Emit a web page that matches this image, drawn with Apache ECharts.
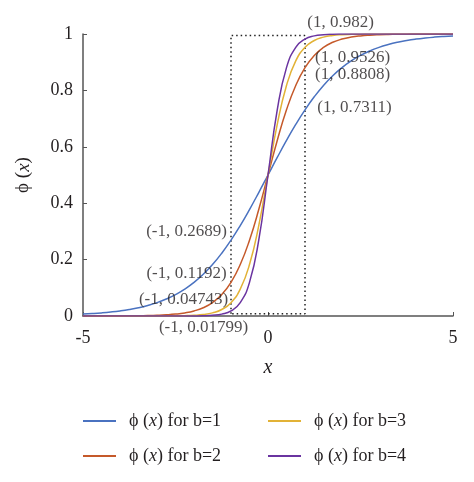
<!DOCTYPE html>
<html>
<head>
<meta charset="utf-8">
<script src="https://cdn.jsdelivr.net/npm/echarts@6/dist/echarts.min.js"></script>
<style>
  html, body { margin: 0; padding: 0; background: #fff; }
  #chart { width: 474px; height: 482px; }
</style>
</head>
<body>
<div id="chart"></div>
<script>
// x samples shared by every curve
const xs = [-5, -4.75, -4.5, -4.25, -4, -3.75, -3.5, -3.25, -3, -2.75, -2.5, -2.25, -2, -1.75, -1.5, -1.25,
  -1, -0.75, -0.5, -0.25, 0, 0.25, 0.5, 0.75, 1, 1.25, 1.5, 1.75, 2, 2.25, 2.5, 2.75, 3, 3.25, 3.5, 3.75,
  4, 4.25, 4.5, 4.75, 5];

const phiB1 = [0.0067, 0.0086, 0.0110, 0.0141, 0.0180, 0.0230, 0.0293, 0.0374, 0.0474, 0.0601, 0.0759,
  0.0953, 0.1192, 0.1480, 0.1824, 0.2227, 0.2689, 0.3208, 0.3775, 0.4378, 0.5, 0.5622, 0.6225, 0.6792,
  0.7311, 0.7773, 0.8176, 0.8520, 0.8808, 0.9047, 0.9241, 0.9399, 0.9526, 0.9626, 0.9707, 0.9770, 0.9820,
  0.9859, 0.9890, 0.9914, 0.9933];
const phiB2 = [0.0000, 0.0001, 0.0001, 0.0002, 0.0003, 0.0006, 0.0009, 0.0015, 0.0025, 0.0041, 0.0067,
  0.0110, 0.0180, 0.0293, 0.0474, 0.0759, 0.1192, 0.1824, 0.2689, 0.3775, 0.5, 0.6225, 0.7311, 0.8176,
  0.8808, 0.9241, 0.9526, 0.9707, 0.9820, 0.9890, 0.9933, 0.9959, 0.9975, 0.9985, 0.9991, 0.9994, 0.9997,
  0.9998, 0.9999, 0.9999, 1.0000];
const phiB3 = [0, 0, 0, 0, 0, 0, 0, 0.0001, 0.0001, 0.0003, 0.0006, 0.0012, 0.0025, 0.0052, 0.0110, 0.0230,
  0.0474, 0.0953, 0.1824, 0.3208, 0.5, 0.6792, 0.8176, 0.9047, 0.9526, 0.9770, 0.9890, 0.9948, 0.9975,
  0.9988, 0.9994, 0.9997, 0.9999, 0.9999, 1, 1, 1, 1, 1, 1, 1];
const phiB4 = [0, 0, 0, 0, 0, 0, 0, 0, 0, 0, 0, 0.0001, 0.0003, 0.0009, 0.0025, 0.0067, 0.0180, 0.0474,
  0.1192, 0.2689, 0.5, 0.7311, 0.8808, 0.9526, 0.9820, 0.9933, 0.9975, 0.9991, 0.9997, 0.9999, 1, 1, 1, 1,
  1, 1, 1, 1, 1, 1, 1];

const seriesNames = ['b=1', 'b=2', 'b=3', 'b=4'];
const seriesValues = [phiB1, phiB2, phiB3, phiB4];
const colors = ['#4a72c0', '#c5592a', '#e2b236', '#6a34a0'];

// dotted box between x = -1 and x = 1
const boxX = [-1, -1, 1, 1, -1];
const boxY = [0.008, 0.995, 0.995, 0.008, 0.008];

// annotated points
const annX = [1, 1, 1, 1, -1, -1, -1, -1];
const annY = [0.982, 0.9526, 0.8808, 0.7311, 0.2689, 0.1192, 0.04743, 0.01799];
const annText = ['(1, 0.982)', '(1, 0.9526)', '(1, 0.8808)', '(1, 0.7311)',
  '(-1, 0.2689)', '(-1, 0.1192)', '(-1, 0.04743)', '(-1, 0.01799)'];
const annOffsets = [[36, -16], [48, 11], [48, 7], [50, -2], [-44, -8], [-44, -8], [-47, -3], [-27, 17]];

const serif = '"Liberation Serif", "DejaVu Serif", serif';
const ink = '#231f20';

const chart = echarts.init(document.getElementById('chart'), null, { renderer: 'canvas' });

const legendName = (n) => 'ϕ ({it|x}) for ' + n;
const richIt = { it: { fontStyle: 'italic', fontFamily: serif, fontSize: 18, color: ink } };

const curves = seriesNames.map((n, i) => ({
  name: n,
  type: 'line',
  data: xs.map((x, k) => [x, seriesValues[i][k]]),
  smooth: true,
  symbol: 'none',
  lineStyle: { color: colors[i], width: 1.5 },
  itemStyle: { color: colors[i] },
  z: 3
}));

const option = {
  backgroundColor: '#fff',
  animation: false,
  grid: { left: 83, right: 21, top: 34, bottom: 166 },
  legend: [
    {
      data: ['b=1', 'b=2'],
      orient: 'vertical',
      left: 78,
      top: 407,
      icon: 'rect',
      itemWidth: 33,
      itemHeight: 2,
      itemGap: 17,
      formatter: legendName,
      textStyle: { fontFamily: serif, fontSize: 18, color: ink, padding: [0, 0, 0, 8], rich: richIt }
    },
    {
      data: ['b=3', 'b=4'],
      orient: 'vertical',
      left: 263,
      top: 407,
      icon: 'rect',
      itemWidth: 33,
      itemHeight: 2,
      itemGap: 17,
      formatter: legendName,
      textStyle: { fontFamily: serif, fontSize: 18, color: ink, padding: [0, 0, 0, 8], rich: richIt }
    }
  ],
  xAxis: {
    type: 'value',
    min: -5,
    max: 5,
    interval: 5,
    name: 'x',
    nameLocation: 'middle',
    nameGap: 42,
    nameTextStyle: { fontFamily: serif, fontStyle: 'italic', fontSize: 20, color: ink },
    axisLine: { onZero: false, lineStyle: { color: '#555', width: 1.5 } },
    axisTick: { inside: true, length: 4, lineStyle: { color: '#555' } },
    axisLabel: { fontFamily: serif, fontSize: 18, color: ink, margin: 13 },
    splitLine: { show: false }
  },
  yAxis: {
    type: 'value',
    min: 0,
    max: 1,
    interval: 0.2,
    name: 'ϕ ({it|x})',
    nameLocation: 'middle',
    nameGap: 50,
    nameRotate: 90,
    nameTextStyle: {
      fontFamily: serif, fontSize: 19, color: ink,
      rich: { it: { fontStyle: 'italic', fontFamily: serif, fontSize: 19, color: ink } }
    },
    axisLine: { show: true, onZero: false, lineStyle: { color: '#555', width: 1.5 } },
    axisTick: { show: true, inside: true, length: 4, lineStyle: { color: '#555' } },
    axisLabel: { fontFamily: serif, fontSize: 18, color: ink, margin: 10 },
    splitLine: { show: false }
  },
  series: [
    {
      name: 'box',
      type: 'line',
      data: boxX.map((x, k) => [x, boxY[k]]),
      symbol: 'none',
      silent: true,
      lineStyle: { color: '#222', width: 1.5, type: [1.5, 3] },
      z: 2
    },
    ...curves,
    {
      name: 'annotations',
      type: 'scatter',
      symbolSize: 1,
      silent: true,
      itemStyle: { color: 'rgba(0,0,0,0)' },
      data: annX.map((x, k) => ({
        value: [x, annY[k]],
        label: {
          show: true,
          formatter: annText[k],
          position: annOffsets[k],
          align: 'center',
          verticalAlign: 'middle',
          fontFamily: serif,
          fontSize: 17,
          color: ink
        }
      })),
      z: 5
    }
  ]
};

chart.setOption(option);
</script>
</body>
</html>
